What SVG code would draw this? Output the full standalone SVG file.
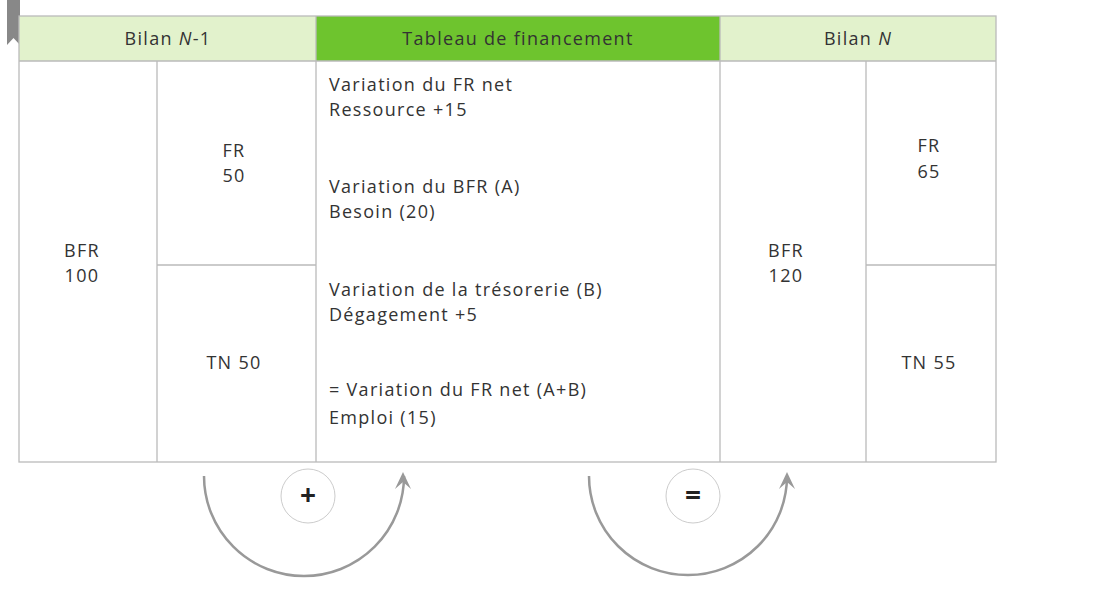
<svg xmlns="http://www.w3.org/2000/svg" width="1120" height="598" viewBox="0 0 1120 598">
<style>
text{font-family:"Open Sans","DejaVu Sans",sans-serif;font-size:18px;fill:#333;letter-spacing:1.3px}
.l{stroke:#bbb;stroke-width:1.3;fill:none}
.arc{stroke:#999;stroke-width:2.5;fill:none}
.ah{fill:#999}
.c{stroke:#ccc;stroke-width:1;fill:#fff}
.m{text-anchor:middle}
</style>
<rect width="1120" height="598" fill="#fff"/>
<path d="M7,0 H20 V45 L13.5,38 L7,45 Z" fill="#888"/>
<g id="header">
<rect x="19" y="16" width="297" height="45" fill="#e2f2cc"/>
<rect x="316" y="16" width="404" height="45" fill="#6ec42e"/>
<rect x="720" y="16" width="276" height="45" fill="#e2f2cc"/>
<text x="168" y="45" class="m">Bilan <tspan font-style="italic">N</tspan>-1</text>
<text x="518" y="45" class="m">Tableau de financement</text>
<text x="858" y="45" class="m">Bilan <tspan font-style="italic">N</tspan></text>
</g>
<g id="grid">
<rect x="19" y="16" width="977" height="446" class="l"/>
<path class="l" d="M19,61H996 M157,61V462 M316,16V462 M720,16V462 M866,61V462 M157,265H316 M866,265H996"/>
</g>
<g id="n1"><text x="82" y="257" class="m">BFR</text><text x="82" y="282" class="m">100</text></g>
<g id="n2"><text x="234" y="157" class="m">FR</text><text x="234" y="182" class="m">50</text></g>
<g id="n3"><text x="234" y="369" class="m">TN 50</text></g>
<g id="n4">
<text x="329" y="91">Variation du FR net</text><text x="329" y="116">Ressource +15</text>
<text x="329" y="193">Variation du BFR  (A)</text><text x="329" y="218">Besoin (20)</text>
<text x="329" y="296">Variation de la trésorerie (B)</text><text x="329" y="321">Dégagement +5</text>
<text x="329" y="396">= Variation du FR net (A+B)</text><text x="329" y="424">Emploi (15)</text>
</g>
<g id="n5"><text x="786" y="257" class="m">BFR</text><text x="786" y="282" class="m">120</text></g>
<g id="n6"><text x="929" y="152" class="m">FR</text><text x="929" y="178" class="m">65</text></g>
<g id="n7"><text x="929" y="369" class="m">TN 55</text></g>
<g id="connectors">
<path class="arc" d="M204,476 A100,100 0 0 0 404,476 V480"/>
<path class="ah" d="M395,489 L403,472 L411,489 L403,482 Z"/>
<path class="arc" d="M589,476 A99,99 0 0 0 787,476"/>
<path class="ah" d="M779,489 L787,472 L795,489 L787,482 Z"/>
</g>
<g id="op1"><circle cx="308" cy="496" r="27" class="c"/><text x="308" y="505" class="m" style="font-size:28px;font-weight:bold;fill:#222;letter-spacing:0">+</text></g>
<g id="op2"><circle cx="693" cy="496" r="27" class="c"/><text x="693" y="505" class="m" style="font-size:28px;font-weight:bold;fill:#222;letter-spacing:0">=</text></g>
</svg>
